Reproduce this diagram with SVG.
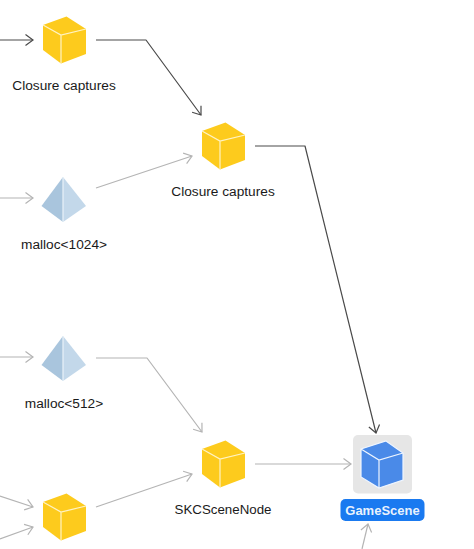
<svg xmlns="http://www.w3.org/2000/svg" xmlns:xlink="http://www.w3.org/1999/xlink" width="474" height="549" viewBox="0 0 474 549">
<style>
.c{fill:none;stroke-width:1.2;stroke-linejoin:round}
.d{stroke:#4a4a4a}
.g{stroke:#b4b4b4}
.t{font-family:"Liberation Sans",Arial,sans-serif;font-size:13.700px;fill:#1a1a1a;text-anchor:middle}
.e{fill:none;stroke:#fff3c4;stroke-width:1.2}
</style>
<defs>
<marker id="ad" markerUnits="userSpaceOnUse" markerWidth="16" markerHeight="20" refX="11" refY="10" orient="auto"><path d="M3.500 4.500L11 10L3.500 15.500" fill="none" stroke="#4a4a4a" stroke-width="1.2"/></marker>
<marker id="ag" markerUnits="userSpaceOnUse" markerWidth="16" markerHeight="20" refX="11" refY="10" orient="auto"><path d="M3.500 4.500L11 10L3.500 15.500" fill="none" stroke="#b4b4b4" stroke-width="1.2"/></marker>
<g id="cube">
<path d="M66.500 16.500L86 29V54L61 63.500L43 50V25Z" fill="#fdcb1d"/>
<path d="M43 25L61 35L86 29M61 35V63" class="e"/>
</g>
<g id="pyr">
<path d="M63 177L41.500 206L63 222Z" fill="#a9c5dd"/>
<path d="M63 177L86 206L63 222Z" fill="#c3d8ea"/>
<path d="M63 177V222" stroke="#eaf2f8" stroke-width="1.200" fill="none"/>
</g>
</defs>
<rect width="474" height="549" fill="#fff"/>
<g id="connectors">
<path class="c g" d="M0 198H33" marker-end="url(#ag)"/>
<path class="c g" d="M96 188L192 156" marker-end="url(#ag)"/>
<path class="c g" d="M0 357H33" marker-end="url(#ag)"/>
<path class="c g" d="M96 358H147L202 432" marker-end="url(#ag)"/>
<path class="c g" d="M96 507L192 474" marker-end="url(#ag)"/>
<path class="c g" d="M255 464H351" marker-end="url(#ag)"/>
<path class="c g" d="M0 496L33 507" marker-end="url(#ag)"/>
<path class="c g" d="M0 539L33 527" marker-end="url(#ag)"/>
<path class="c g" d="M362 549L368 524" marker-end="url(#ag)"/>
<path class="c d" d="M0 40H33" marker-end="url(#ad)"/>
<path class="c d" d="M96 40H146L201 115" marker-end="url(#ad)"/>
<path class="c d" d="M255 146H305L376 433" marker-end="url(#ad)"/>
</g>
<g id="n1"><use xlink:href="#cube" href="#cube"/><text class="t" x="64" y="90">Closure captures</text></g>
<g id="n2"><use xlink:href="#cube" href="#cube" x="159" y="106"/><text class="t" x="223" y="196">Closure captures</text></g>
<g id="n3"><use xlink:href="#pyr" href="#pyr"/><text class="t" x="64" y="249">malloc&lt;1024&gt;</text></g>
<g id="n4"><use xlink:href="#pyr" href="#pyr" y="159"/><text class="t" x="64" y="408">malloc&lt;512&gt;</text></g>
<g id="n5"><use xlink:href="#cube" href="#cube" x="159" y="424"/><text class="t" x="223" y="514" textLength="97" lengthAdjust="spacingAndGlyphs">SKCSceneNode</text></g>
<g id="n6"><use xlink:href="#cube" href="#cube" y="477"/></g>
<g id="n7">
<rect x="353" y="435" width="59" height="58.500" rx="5" fill="#e6e6e6"/>
<path d="M386 441L403 453V480L379 488L361 477V449Z" fill="#4a8ae8"/>
<path d="M361 449L379 460L403 453M379 460V488M386 441L403 453V480L379 488L361 477V449Z" fill="none" stroke="#eef5ff" stroke-width="1.200"/>
<rect x="340.500" y="499" width="84" height="22" rx="5" fill="#1a7af0"/>
<text x="382.500" y="515" font-family="'Liberation Sans',Arial,sans-serif" font-size="13" font-weight="700" fill="#fff" fill-opacity=".92" text-anchor="middle">GameScene</text>
</g>
</svg>
